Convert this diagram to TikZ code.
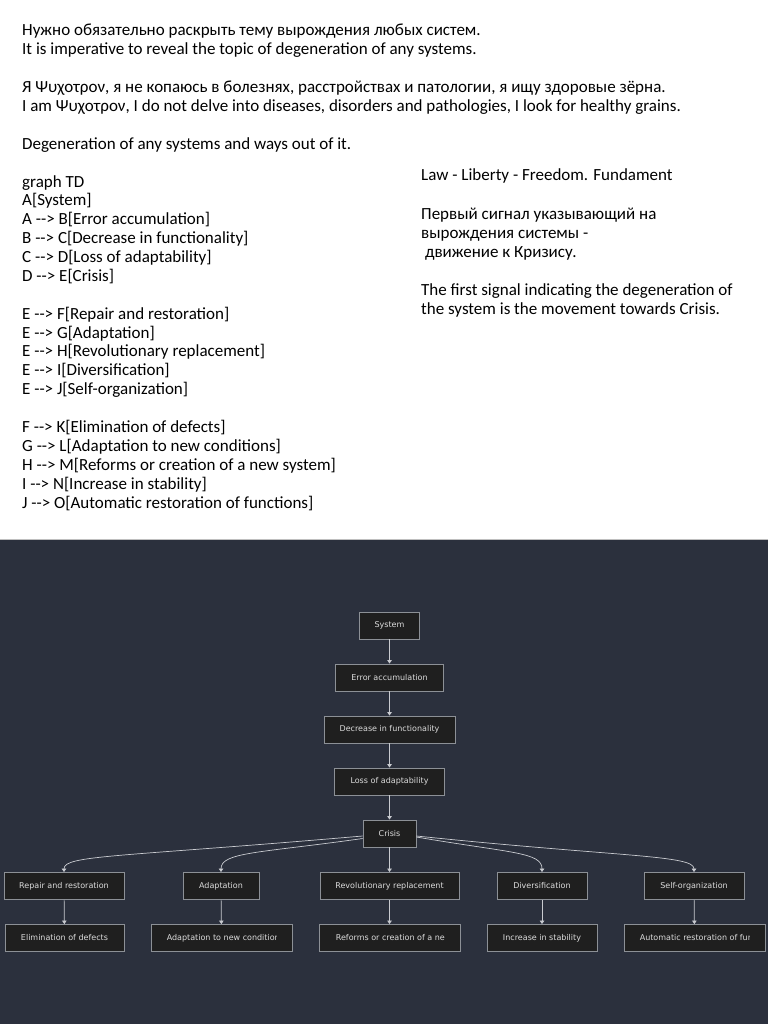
\documentclass[tikz,border=0pt]{standalone}
\usepackage{fontspec}
\setmainfont{Carlito}
\newfontfamily\diagfont{DejaVu Sans}
\usepackage{xcolor}
\usepackage{tikz}
\usetikzlibrary{arrows.meta}

\definecolor{panel}{HTML}{2B303D}
\definecolor{boxfill}{HTML}{1F1F1F}
\definecolor{boxline}{HTML}{8C9096}
\definecolor{boxtext}{HTML}{DCDCDC}
\definecolor{linkcol}{HTML}{C9CBD0}
\newcommand{\codearrow}{-\kern0pt->}

\tikzset{
  note/.style={anchor=base west, inner sep=0pt, font=\fontsize{17}{19}\selectfont},
  boxtxt/.style={text=boxtext, inner sep=0pt, font=\diagfont\fontsize{8}{9}\selectfont},
  box/.style={boxtxt, draw=boxline, fill=boxfill, line width=0.8pt, minimum height=27pt},
  link/.style={draw=linkcol, line width=0.7pt, -{Triangle[width=4.5pt,length=3.5pt]}}
}

\begin{document}
\begin{tikzpicture}[x=1pt,y=-1pt]
		\useasboundingbox (0,0) rectangle (768,1024);
		%page
		\fill[white] (0,0) rectangle (768,539);
		%diagram panel
		\fill[panel] (0,539) rectangle (768,1024);
		\draw[gray!50, line width=0.6pt] (0,539.3) -- (768,539.3);
		
		%notes, left column
		\foreach \txt [count=\i from 0] in {
			Нужно обязательно раскрыть тему вырождения любых систем.,
			It is imperative to reveal the topic of degeneration of any systems.,
			{},
			{Я Ψυχοτρον, я не копаюсь в болезнях, расстройствах и патологии, я ищу здоровые зёрна.},
			{I am Ψυχοτρον, I do not delve into diseases, disorders and pathologies, I look for healthy grains.},
			{},
			Degeneration of any systems and ways out of it.,
			{},
			graph TD,
			A[System],
			{A \codearrow\ B[Error accumulation]},
			{B \codearrow\ C[Decrease in functionality]},
			{C \codearrow\ D[Loss of adaptability]},
			{D \codearrow\ E[Crisis]},
			{},
			{E \codearrow\ F[Repair and restoration]},
			{E \codearrow\ G[Adaptation]},
			{E \codearrow\ H[Revolutionary replacement]},
			{E \codearrow\ I[Diversification]},
			{E \codearrow\ J[Self-organization]},
			{},
			{F \codearrow\ K[Elimination of defects]},
			{G \codearrow\ L[Adaptation to new conditions]},
			{H \codearrow\ M[Reforms or creation of a new system]},
			{I \codearrow\ N[Increase in stability]},
			{J \codearrow\ O[Automatic restoration of functions]}}
			\node[note] (l\i) at (22,36+18.88*\i) {\txt};
		
		%notes, right column
		\foreach \txt [count=\i from 0] in {
			Law - Liberty - Freedom. Fundament,
			{},
			Первый сигнал указывающий на,
			вырождения системы -,
			{\ движение к Кризису.},
			{},
			The first signal indicating the degeneration of,
			the system is the movement towards Crisis.}
			\node[note] (r\i) at (421,181+19*\i) {\txt};
		
		%chain
		\node[box, minimum width=60pt] (A) at (389.5,625.5) {System};
		\node[box, minimum width=108pt] (B) at (389.5,677.5) {Error accumulation};
		\node[box, minimum width=131pt] (C) at (389.5,729.5) {Decrease in functionality};
		\node[box, minimum width=110pt] (D) at (389.5,781.5) {Loss of adaptability};
		\node[box, minimum width=53pt] (E) at (389.5,833.5) {Crisis};
		
		%ways out
		\node[box, minimum width=120pt] (F) at (64,886) {Repair and restoration};
		\node[box, minimum width=76pt] (G) at (221,886) {Adaptation};
		\node[box, minimum width=139pt] (H) at (389.5,886) {Revolutionary replacement};
		\node[box, minimum width=90pt] (I) at (542,886) {Diversification};
		\node[box, minimum width=100pt] (J) at (694,886) {Self-organization};
		
		%results
		\node[box, minimum width=119pt] (K) at (64.5,938) {Elimination of defects};
		\node[box, minimum width=141pt] (L) at (221.5,938) {};
		\node[box, minimum width=141pt] (M) at (389.5,938) {};
		\node[box, minimum width=110pt] (N) at (542,938) {Increase in stability};
		\node[box, minimum width=141pt] (O) at (694.5,938) {};
		%cut labels
		\begin{scope}
			\clip (L.south west) rectangle ([xshift=-16pt]L.north east);
			\node[boxtxt, anchor=west] (Ltxt) at ([xshift=16pt]L.west) {Adaptation to new conditions};
		\end{scope}
		\begin{scope}
			\clip (M.south west) rectangle ([xshift=-16pt]M.north east);
			\node[boxtxt, anchor=west] (Mtxt) at ([xshift=17pt]M.west) {Reforms or creation of a new system};
		\end{scope}
		\begin{scope}
			\clip (O.south west) rectangle ([xshift=-16pt]O.north east);
			\node[boxtxt, anchor=west] (Otxt) at ([xshift=16pt]O.west) {Automatic restoration of functions};
		\end{scope}
		
		%links
		\draw[link] (A) -- (B);
		\draw[link] (B) -- (C);
		\draw[link] (C) -- (D);
		\draw[link] (D) -- (E);
		\draw[link] ([yshift=-2.5pt]E.west) .. controls (120,857) and (64,855) .. (F.north);
		\draw[link] ([yshift=-5pt]E.west) .. controls (260,853) and (221,852) .. (G.north);
		\draw[link] (E) -- (H);
		\draw[link] ([yshift=-3.5pt]E.east) .. controls (510,853) and (542,852) .. (I.north);
		\draw[link] ([yshift=-2.5pt]E.east) .. controls (620,857) and (694,855) .. (J.north);
		\draw[link] (F) -- (K);
		\draw[link] (G) -- (L);
		\draw[link] (H) -- (M);
		\draw[link] (I) -- (N);
		\draw[link] (J) -- (O);
	\end{tikzpicture}
\end{document}
